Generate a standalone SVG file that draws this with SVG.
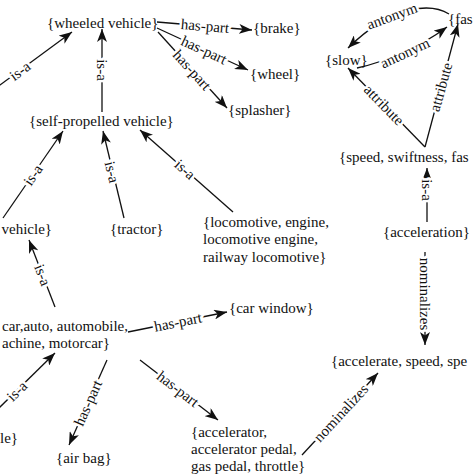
<svg xmlns="http://www.w3.org/2000/svg" width="474" height="474" viewBox="0 0 474 474">
<defs>
<style>
text{font-family:"Liberation Serif","Times New Roman",serif;font-size:15px;fill:#111}
.e{fill:none;stroke:#111;stroke-width:1.3;marker-end:url(#ah)}
.l{text-anchor:middle;dominant-baseline:central;paint-order:stroke;stroke:#fff;stroke-width:5px;stroke-linejoin:round}
</style>
<marker id="ah" markerUnits="userSpaceOnUse" markerWidth="14" markerHeight="10" refX="13" refY="5" orient="auto">
<path d="M0,0 L13,5 L0,10 L3.5,5 z" fill="#111"/>
</marker>
</defs>
<rect width="474" height="474" fill="#fff"/>
<g id="connectors">
<path class="e" d="M-10,92.4 L72,32"/>
<path class="e" d="M102,112 L102,29"/>
<path class="e" d="M157,22 L252,30"/>
<path class="e" d="M157,28 L248,70"/>
<path class="e" d="M158,32 L227,108"/>
<path class="e" d="M3,218 L63,131"/>
<path class="e" d="M124,218 L103,131"/>
<path class="e" d="M233,212 L140,130"/>
<path class="e" d="M55,307 L29,240"/>
<path class="e" d="M128,332 L227,312"/>
<path class="e" d="M-10,416.8 L55,353"/>
<path class="e" d="M107,360 L69,445"/>
<path class="e" d="M140,360 L218,420"/>
<path class="e" d="M302,455 L378,373"/>
<path class="e" d="M425,252 L425,345"/>
<path class="e" d="M427,222 L427,168"/>
<path class="e" d="M425,147 L348,68"/>
<path class="e" d="M425,147 L458,24"/>
<path class="e" d="M357,68 C385,62 420,47 447,27"/>
<path class="e" d="M449,14 C433,4 395,2 348,48"/>
<text class="l" transform="translate(20,71) rotate(-36)">is-a</text>
<text class="l" transform="translate(102,70) rotate(90)">is-a</text>
<text class="l" transform="translate(205,26) rotate(4.8)">has-part</text>
<text class="l" transform="translate(204,50) rotate(24.8)">has-part</text>
<text class="l" transform="translate(192,70) rotate(47.8)">has-part</text>
<text class="l" transform="translate(33,175) rotate(-55.4)">is-a</text>
<text class="l" transform="translate(112,172) rotate(76.4)">is-a</text>
<text class="l" transform="translate(185,169.5) rotate(41.4)">is-a</text>
<text class="l" transform="translate(42.5,275) rotate(68.8)">is-a</text>
<text class="l" transform="translate(178,322) rotate(-11.4)">has-part</text>
<text class="l" transform="translate(17,391) rotate(-44.5)">is-a</text>
<text class="l" transform="translate(88,403) rotate(-65.9)">has-part</text>
<text class="l" transform="translate(178,389) rotate(37.6)">has-part</text>
<text class="l" transform="translate(341,413) rotate(-47.2)">nominalizes</text>
<text class="l" transform="translate(425,294) rotate(90)">nominalizes</text>
<text class="l" transform="translate(427,190) rotate(90)">is-a</text>
<text class="l" transform="translate(384,105) rotate(45.7)">attribute</text>
<text class="l" transform="translate(441,87) rotate(-74.4)">attribute</text>
<text class="l" transform="translate(405,53) rotate(-25)">antonym</text>
<text class="l" transform="translate(392,16) rotate(-20)">antonym</text>
</g>
<g id="n-wheeled"><text x="47" y="27.5">{wheeled vehicle}</text></g>
<g id="n-brake"><text x="253" y="33">{brake}</text></g>
<g id="n-wheel"><text x="250" y="79">{wheel}</text></g>
<g id="n-splasher"><text x="228" y="115">{splasher}</text></g>
<g id="n-selfprop"><text x="29" y="126">{self-propelled vehicle}</text></g>
<g id="n-slow"><text x="325" y="65">{slow}</text></g>
<g id="n-fast"><text x="448" y="23.5">{fas</text></g>
<g id="n-speed"><text x="339" y="161.5">{speed, swiftness, fas</text></g>
<g id="n-acceleration"><text x="383" y="237">{acceleration}</text></g>
<g id="n-accelerate"><text x="331" y="365.5">{accelerate, speed, spe</text></g>
<g id="n-locomotive"><text x="203" y="226.5">{locomotive, engine,</text><text x="203" y="244">locomotive engine,</text><text x="203" y="261.5">railway locomotive}</text></g>
<g id="n-tractor"><text x="110" y="233.5">{tractor}</text></g>
<g id="n-motorvehicle"><text x="52" y="233.5" text-anchor="end">vehicle}</text></g>
<g id="n-car"><text x="128" y="330.5" text-anchor="end">car,auto, automobile,</text><text x="110" y="348" text-anchor="end">achine, motorcar}</text></g>
<g id="n-carwindow"><text x="229" y="312.5">{car window}</text></g>
<g id="n-airbag"><text x="56" y="462.5">{air bag}</text></g>
<g id="n-bicycle"><text x="18" y="443" text-anchor="end">le}</text></g>
<g id="n-accelerator"><text x="191" y="437">{accelerator,</text><text x="191" y="454">accelerator pedal,</text><text x="191" y="471">gas pedal, throttle}</text></g>
</svg>
